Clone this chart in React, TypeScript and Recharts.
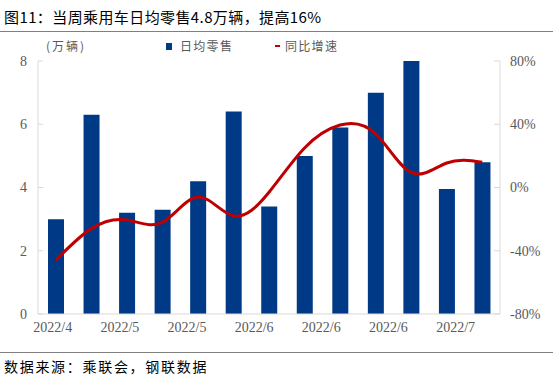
import React from 'react';
import { ComposedChart, Bar, Line, XAxis, YAxis } from 'recharts';

const categories = ['2022/4', '2022/4', '2022/5', '2022/5', '2022/5', '2022/5', '2022/6', '2022/6', '2022/6', '2022/6', '2022/6', '2022/6', '2022/7'];
const dailyRetail = [3.0, 6.3, 3.2, 3.3, 4.2, 6.4, 3.4, 5.0, 5.9, 7.0, 8.0, 3.95, 4.8];
const yoyGrowth = [-46, -26, -20.5, -22, -6, -18, -3, 25, 39.5, 34, 9.5, 15.5, 16];
const leftTicks = [0, 2, 4, 6, 8];
const rightTicks = [-80, -40, 0, 40, 80];

const data = categories.map((c, i) => ({ name: c, retail: dailyRetail[i], yoy: yoyGrowth[i] }));

const GRAY = '#595959';
const AXIS = '#d9d9d9';
const SERIF = '"Liberation Serif", "Times New Roman", serif';
const CJK = '"Noto Sans CJK SC", "Noto Sans", sans-serif';

const LeftTick = (props: any) => {
  const { x, y, payload } = props;
  return (
    <g>
      <line x1={x} x2={x + 5} y1={y} y2={y} stroke={AXIS} strokeWidth={1} />
      <text x={x - 11} y={y} dy="0.35em" textAnchor="end" fill={GRAY} fontSize={14} fontFamily={SERIF}>
        {payload.value}
      </text>
    </g>
  );
};

const RightTick = (props: any) => {
  const { x, y, payload } = props;
  return (
    <g>
      <line x1={x - 6} x2={x} y1={y} y2={y} stroke={AXIS} strokeWidth={1} />
      <text x={x + 10} y={y} dy="0.35em" textAnchor="start" fill={GRAY} fontSize={14} fontFamily={SERIF}>
        {payload.value + '%'}
      </text>
    </g>
  );
};

const BottomTick = (props: any) => {
  const { x, y, payload } = props;
  const lx = 36 + (x - 38) * 0.9445;
  return (
    <text x={lx} y={y + 6} dy="0.71em" textAnchor="middle" fill={GRAY} fontSize={14} fontFamily={SERIF}>
      {payload.value}
    </text>
  );
};

export default function App() {
  return (
    <div style={{ position: 'absolute', left: 0, top: 0, width: 553, height: 384, background: '#fff', overflow: 'hidden' }}>
      <div style={{ position: 'absolute', left: 4, top: 6, fontFamily: CJK, fontSize: 15, letterSpacing: 0.4, color: '#000', lineHeight: '22px', whiteSpace: 'nowrap' }}>
        图11：当周乘用车日均零售4.8万辆，提高16%
      </div>
      <div style={{ position: 'absolute', left: 0, top: 31, width: 553, height: 1, background: '#808080' }} />
      <div style={{ position: 'absolute', left: 46, top: 38, fontFamily: CJK, fontSize: 12, letterSpacing: 2, color: GRAY, lineHeight: '16px', whiteSpace: 'nowrap' }}>
        (万辆)
      </div>
      <div style={{ position: 'absolute', left: 166, top: 43, width: 6, height: 7, background: '#003A86' }} />
      <div style={{ position: 'absolute', left: 180, top: 38, fontFamily: CJK, fontSize: 12, letterSpacing: 1.3, color: GRAY, lineHeight: '16px', whiteSpace: 'nowrap' }}>
        日均零售
      </div>
      <div style={{ position: 'absolute', left: 275, top: 45, width: 5, height: 2, background: '#C00000' }} />
      <div style={{ position: 'absolute', left: 285, top: 38, fontFamily: CJK, fontSize: 12, letterSpacing: 1.3, color: GRAY, lineHeight: '16px', whiteSpace: 'nowrap' }}>
        同比增速
      </div>
      <div style={{ position: 'absolute', left: 0, top: 0 }}>
        <ComposedChart width={553} height={384} data={data} margin={{ top: 61, right: 0, bottom: 50, left: 0 }}>
          <XAxis
            dataKey="name"
            height={20}
            interval={1}
            tickLine={false}
            tickSize={0}
            axisLine={{ stroke: AXIS }}
            tick={<BottomTick />}
          />
          <YAxis
            yAxisId="left"
            orientation="left"
            width={38}
            domain={[0, 8]}
            ticks={leftTicks}
            tickSize={0}
            tickMargin={0}
            tickLine={false}
            axisLine={{ stroke: AXIS }}
            tick={<LeftTick />}
          />
          <YAxis
            yAxisId="right"
            orientation="right"
            width={53}
            domain={[-80, 80]}
            ticks={rightTicks}
            tickSize={0}
            tickMargin={0}
            tickLine={false}
            axisLine={{ stroke: AXIS }}
            tick={<RightTick />}
          />
          <Bar yAxisId="left" dataKey="retail" fill="#003A86" barSize={16} isAnimationActive={false} />
          <Line yAxisId="right" dataKey="yoy" type="natural" stroke="#C00000" strokeWidth={3} dot={false} isAnimationActive={false} />
        </ComposedChart>
      </div>
      <div style={{ position: 'absolute', left: 0, top: 352, width: 553, height: 1, background: '#808080' }} />
      <div style={{ position: 'absolute', left: 4, top: 356, fontFamily: CJK, fontSize: 14, letterSpacing: 1.7, color: '#000', lineHeight: '20px', whiteSpace: 'nowrap' }}>
        数据来源：乘联会，钢联数据
      </div>
    </div>
  );
}
